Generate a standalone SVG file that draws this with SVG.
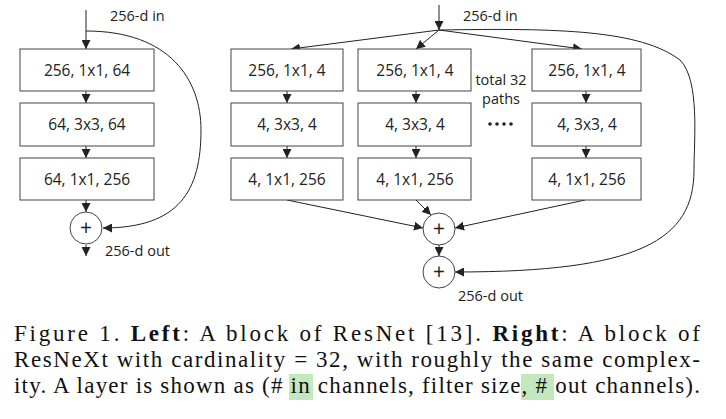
<svg xmlns="http://www.w3.org/2000/svg" width="726" height="419" viewBox="0 0 726 419">
<style>
.box{fill:#fff;stroke:#444;stroke-width:1}
.ln{fill:none;stroke:#222;stroke-width:1}
.bt{font-family:"Open Sans","Liberation Sans",sans-serif;font-size:15.5px;fill:#222;text-anchor:middle}
.pl{font-family:"Open Sans","Liberation Sans",sans-serif;font-size:21px;fill:#222;text-anchor:middle}
.lb{font-family:"Open Sans","Liberation Sans",sans-serif;font-size:14.5px;fill:#222}
.cap{font-family:"Liberation Serif",serif;font-size:23px;fill:#111}
</style>
<defs>
<marker id="ah" viewBox="0 0 10 10" refX="10" refY="5" markerWidth="9" markerHeight="9" markerUnits="userSpaceOnUse" orient="auto"><path d="M0,0L10,5L0,10z" fill="#222"/></marker>
</defs>
<rect width="726" height="419" fill="#fff"/>
<g id="connectors">
<line class="ln" x1="86" y1="10" x2="86" y2="49" marker-end="url(#ah)"/>
<line class="ln" x1="86" y1="91" x2="86" y2="103" marker-end="url(#ah)"/>
<line class="ln" x1="86" y1="146" x2="86" y2="158" marker-end="url(#ah)"/>
<line class="ln" x1="86" y1="200" x2="86" y2="212" marker-end="url(#ah)"/>
<line class="ln" x1="86" y1="245" x2="86" y2="256" marker-end="url(#ah)"/>
<path class="ln" d="M86,31 C170,31 201,80 201,130 C201,190 180,228 103,228" marker-end="url(#ah)"/>
<line class="ln" x1="439" y1="5" x2="439" y2="30" marker-end="url(#ah)"/>
<line class="ln" x1="439" y1="30" x2="291" y2="49" marker-end="url(#ah)"/>
<line class="ln" x1="439" y1="30" x2="416" y2="49" marker-end="url(#ah)"/>
<line class="ln" x1="439" y1="30" x2="582" y2="49" marker-end="url(#ah)"/>
<path class="ln" d="M439,30 C560,28 640,30 680,60 C700,80 694,140 694,170 C694,240 640,272 455,272" marker-end="url(#ah)"/>
<line class="ln" x1="287" y1="91" x2="287" y2="103" marker-end="url(#ah)"/>
<line class="ln" x1="287" y1="146" x2="287" y2="158" marker-end="url(#ah)"/>
<line class="ln" x1="416" y1="91" x2="416" y2="103" marker-end="url(#ah)"/>
<line class="ln" x1="416" y1="146" x2="416" y2="158" marker-end="url(#ah)"/>
<line class="ln" x1="586" y1="91" x2="586" y2="103" marker-end="url(#ah)"/>
<line class="ln" x1="586" y1="146" x2="586" y2="158" marker-end="url(#ah)"/>
<line class="ln" x1="287" y1="200" x2="423" y2="228" marker-end="url(#ah)"/>
<line class="ln" x1="416" y1="200" x2="431" y2="215" marker-end="url(#ah)"/>
<line class="ln" x1="585" y1="200" x2="455" y2="228" marker-end="url(#ah)"/>
<line class="ln" x1="439" y1="245" x2="439" y2="256" marker-end="url(#ah)"/>
</g>
<g id="left-in"><text class="lb" x="110" y="21">256-d in</text></g>
<g id="l1"><rect class="box" x="20" y="49" width="134" height="42"/><text class="bt" x="87" y="76">256, 1x1, 64</text></g>
<g id="l2"><rect class="box" x="20" y="103" width="134" height="43"/><text class="bt" x="87" y="130">64, 3x3, 64</text></g>
<g id="l3"><rect class="box" x="20" y="158" width="134" height="42"/><text class="bt" x="87" y="185">64, 1x1, 256</text></g>
<g id="lsum"><circle class="box" cx="86" cy="228" r="16"/><text class="pl" x="86" y="235">+</text></g>
<g id="left-out"><text class="lb" x="105" y="256">256-d out</text></g>
<g id="right-in"><text class="lb" x="463" y="21">256-d in</text></g>
<g id="a1"><rect class="box" x="231" y="49" width="112" height="42"/><text class="bt" x="287" y="76">256, 1x1, 4</text></g>
<g id="a2"><rect class="box" x="231" y="103" width="112" height="43"/><text class="bt" x="287" y="130">4, 3x3, 4</text></g>
<g id="a3"><rect class="box" x="231" y="158" width="112" height="42"/><text class="bt" x="287" y="185">4, 1x1, 256</text></g>
<g id="b1"><rect class="box" x="358" y="49" width="113" height="42"/><text class="bt" x="415" y="76">256, 1x1, 4</text></g>
<g id="b2"><rect class="box" x="358" y="103" width="113" height="43"/><text class="bt" x="415" y="130">4, 3x3, 4</text></g>
<g id="b3"><rect class="box" x="358" y="158" width="113" height="42"/><text class="bt" x="415" y="185">4, 1x1, 256</text></g>
<g id="c1"><rect class="box" x="532" y="49" width="109" height="42"/><text class="bt" x="587" y="76">256, 1x1, 4</text></g>
<g id="c2"><rect class="box" x="532" y="103" width="109" height="43"/><text class="bt" x="587" y="130">4, 3x3, 4</text></g>
<g id="c3"><rect class="box" x="532" y="158" width="109" height="42"/><text class="bt" x="587" y="185">4, 1x1, 256</text></g>
<g id="paths"><text class="lb" x="501" y="85" text-anchor="middle">total 32</text><text class="lb" x="501" y="104" text-anchor="middle">paths</text>
<circle cx="490" cy="124" r="1.8" fill="#222"/><circle cx="497" cy="124" r="1.8" fill="#222"/><circle cx="504" cy="124" r="1.8" fill="#222"/><circle cx="511" cy="124" r="1.8" fill="#222"/></g>
<g id="sum1"><circle class="box" cx="439" cy="229" r="16"/><text class="pl" x="439" y="236">+</text></g>
<g id="sum2"><circle class="box" cx="439" cy="272" r="16"/><text class="pl" x="439" y="279">+</text></g>
<g id="right-out"><text class="lb" x="458" y="301">256-d out</text></g>
<g id="caption">
<rect x="289" y="374" width="24" height="26" fill="#c4e8bd"/>
<rect x="521" y="374" width="33" height="26" fill="#c4e8bd"/>
<text class="cap" x="14" y="341" textLength="686" lengthAdjust="spacing">Figure 1. <tspan font-weight="bold">Left</tspan>:  A block of ResNet [13].  <tspan font-weight="bold">Right</tspan>:  A block of</text>
<text class="cap" x="14" y="367" textLength="686" lengthAdjust="spacing">ResNeXt with cardinality = 32, with roughly the same complex-</text>
<text class="cap" x="14" y="393" textLength="686" lengthAdjust="spacing">ity. A layer is shown as (# in channels, filter size, # out channels).</text>
</g>
</svg>
